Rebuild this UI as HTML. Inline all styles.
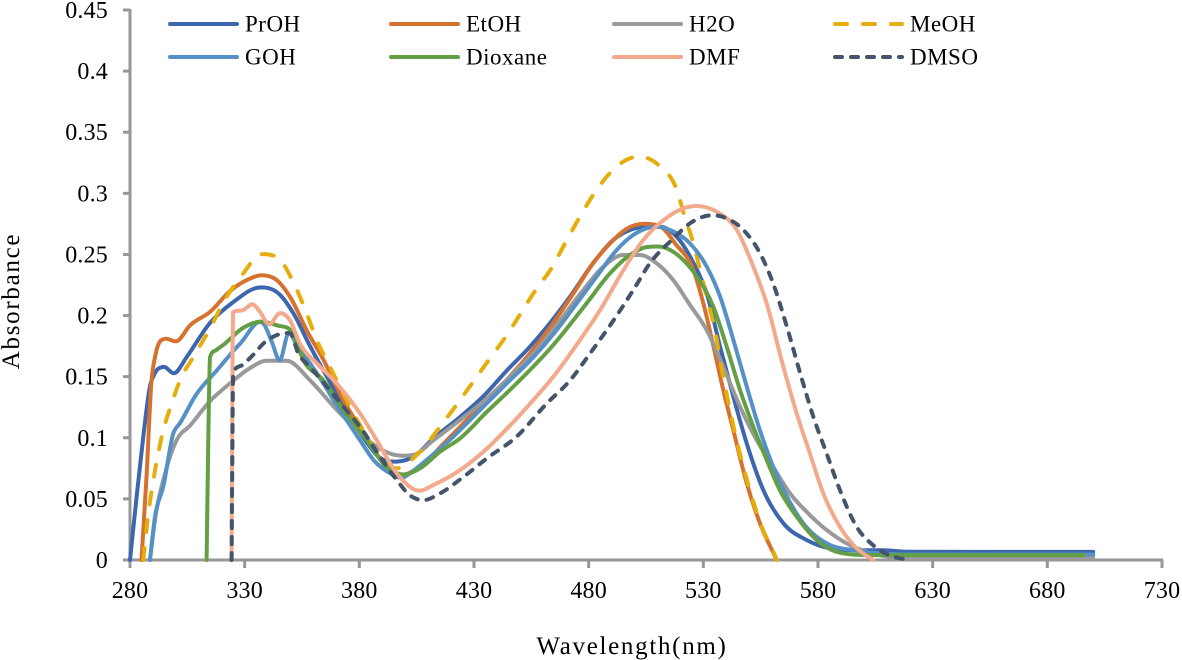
<!DOCTYPE html>
<html lang="en">
<head>
<meta charset="utf-8">
<title>Absorbance vs Wavelength</title>
<style>
html,body{margin:0;padding:0;background:#fff;width:1182px;height:660px;overflow:hidden}
svg{display:block}
text{font-family:"Liberation Serif",serif;fill:#000}
.tick{font-size:24px;letter-spacing:.2px}
.title{font-size:25px;letter-spacing:1.7px}
.leg{font-size:23px;letter-spacing:.5px}
</style>
</head>
<body>
<svg id="chart" width="1182" height="660" viewBox="0 0 1182 660" xmlns="http://www.w3.org/2000/svg">
  <text class="title" transform="translate(19,301) rotate(-90)" text-anchor="middle">Absorbance</text>
  <text class="title" x="632" y="654" text-anchor="middle">Wavelength(nm)</text>
</svg>
<script>
const xTicks = [280, 330, 380, 430, 480, 530, 580, 630, 680, 730];
const yTicks = [0, 0.05, 0.1, 0.15, 0.2, 0.25, 0.3, 0.35, 0.4, 0.45];
const yTickLabels = ['0', '0.05', '0.1', '0.15', '0.2', '0.25', '0.3', '0.35', '0.4', '0.45'];

const prohX = [280,282.9,285.8,288.7,290.9,294.5,299.6,304.7,314.9,325,336.7,345.4,351.2,358.5,370.1,380.3,390.5,396.3,403.6,412.3,423.9,434.1,444.3,454.4,463.2,471.9,482,490.8,498,505.3,511.1,518.4,525.7,531.5,537.3,543.1,548.9,556.2,564.9,575,585.2,596.9,608.5,618.7,650,700];
const prohY = [0,.052,.101,.142,.153,.158,.153,.166,.194,.211,.223,.217,.202,.175,.136,.104,.082,.0805,.0845,.0995,.117,.134,.155,.1745,.194,.2155,.243,.262,.27,.2727,.2727,.2645,.243,.218,.1745,.1336,.0955,.057,.03,.0164,.0095,.008,.008,.0068,.0066,.0066];

const etohX = [285,287.2,289.4,290.9,295.3,300.3,306.2,314.9,323.6,330.9,337.4,344,350.5,357,364.3,373,381.7,390.5,394.8,406.5,416.6,429.7,442.8,454.4,464.6,473.3,482,489.3,496.6,506,512.6,517.7,525.7,530,534.4,538.7,543.1,548.9,554.7,562];
const etohY = [0,.068,.147,.166,.181,.179,.192,.203,.22,.229,.233,.229,.213,.188,.164,.131,.104,.079,.07,.076,.095,.12,.1445,.169,.194,.218,.243,.259,.271,.275,.271,.259,.237,.21,.175,.139,.106,.063,.03,0];

const h2oX = [288.7,290.9,295.3,300.3,306.2,314.9,323.6,332.3,339.6,348.3,358.5,370.1,380.3,389,397.7,403.6,412.3,423.9,435.5,445.7,457.3,467.5,477.7,486.4,495.1,502.4,509.7,516.9,524.2,531.5,538.7,546,553.3,560.5,567.8,575,583.8,592.5,601.2,612.9,650,700];
const h2oY = [0,.033,.071,.098,.11,.13,.1445,.157,.163,.163,.147,.123,.104,.091,.0854,.086,.098,.1145,.132,.15,.172,.196,.221,.24,.2495,.2495,.2427,.229,.2086,.188,.158,.1255,.098,.076,.0545,.0395,.0245,.0136,.0068,.0025,.002,.002];

const meohX = [285.8,288,290.2,294.5,298.2,301.8,307.6,314.9,321.4,329.4,336.7,344,350.5,357,361.4,367.2,373,381.7,390.5,396.3,400.6,406.5,415.2,422.4,429.7,437,444.3,450.8,457.3,463.2,469.7,476.2,482.8,490,501,511.1,518.4,522,525.7,528.6,532.2,535.1,537.3,539.5,541.6,544.5,547.5,551.1,555.5,560.5,562];
const meohY = [0,.038,.0655,.106,.128,.147,.166,.1895,.213,.2345,.25,.248,.23,.202,.18,.158,.136,.106,.082,.075,.079,.0886,.109,.127,.146,.165,.184,.203,.222,.237,.259,.281,.301,.318,.33,.322,.303,.28,.259,.237,.21,.188,.1636,.142,.1227,.098,.076,.052,.027,.0068,0];

const gohX = [288.7,290.9,294.5,298.9,301.8,309.1,317.8,328,338.1,341.8,345.4,349,352.7,361.4,370.1,380.3,386.1,393.4,399.2,402.1,409.4,421,432.6,444.3,455.9,466,474.8,483.5,492.2,499.5,505.3,509.7,515.5,524.2,531.5,537.3,543.1,548.9,554.7,560.5,566.4,573.6,583.8,595.4,607,618.7,700];
const gohY = [0,.0355,.06,.1036,.112,.136,.155,.177,.1936,.1786,.1636,.1855,.176,.153,.127,.098,.082,.071,.0675,.071,.082,.101,.1227,.1445,.166,.188,.21,.232,.2536,.266,.2714,.2727,.27,.259,.24,.2155,.18,.142,.106,.076,.052,.03,.0136,.008,.0055,.0045,.0045];

const dioxaneX = [313.4,314.2,314.9,317.8,320.7,329.4,336.7,344,350.5,355.6,364.3,373,383.2,391.9,399.2,406.5,415.2,423.9,435.5,448.6,464.6,479.1,489.3,498,505.3,511.1,514,519.8,527.1,534.4,540.2,546,551.8,557.6,563.4,570.7,579.4,589.6,604.1,696];
const dioxaneY = [0,.106,.166,.172,.176,.19,.195,.192,.187,.1636,.147,.123,.098,.076,.07,.075,.0886,.0995,.121,.1445,.176,.21,.2345,.2495,.256,.2564,.255,.248,.232,.207,.1745,.139,.109,.082,.057,.0355,.0164,.006,.004,.004];

const dmfX = [324.3,324.6,325,329.4,333.8,336.7,340.3,345.4,349.8,354.1,361.4,370.1,380.3,387.6,396.3,405,413.7,423.9,434.1,445.7,455.9,464.6,476.2,485,495.1,503.9,512.6,521.3,527.8,535.8,544.6,551.8,557.6,564.9,570.7,576.5,582.3,589.6,596.9,604.1];
const dmfY = [0,.1336,.203,.2045,.209,.203,.193,.202,.196,.177,.161,.1445,.12,.098,.071,.057,.0627,.0736,.0886,.11,.131,.15,.18,.2045,.237,.262,.278,.2877,.2896,.285,.27,.24,.21,.158,.12,.087,.0545,.027,.0095,0];

const dmsoX = [324.3,324.6,325,329.4,333.8,338.1,344,349.8,353.4,358.5,365.8,373,380.3,389,396.3,402,407.9,415.2,425.4,435.5,448.6,461.7,471.9,480.6,490.8,499.5,506.8,516.9,524.2,532.9,540.2,547.5,554.7,560.5,566.4,572.2,578,583.8,589.6,596.9,604.1,612.9,620];
const dmsoY = [0,.079,.153,.16,.168,.177,.184,.1855,.169,.158,.142,.1255,.109,.0845,.0655,.053,.049,.0545,.068,.083,.101,.128,.147,.169,.196,.221,.243,.263,.2755,.282,.2795,.27,.251,.226,.191,.153,.117,.087,.057,.027,.012,.0027,0];

const seriesNames = ['PrOH', 'EtOH', 'H2O', 'MeOH', 'GOH', 'Dioxane', 'DMF', 'DMSO'];
const seriesX = [prohX, etohX, h2oX, meohX, gohX, dioxaneX, dmfX, dmsoX];
const seriesY = [prohY, etohY, h2oY, meohY, gohY, dioxaneY, dmfY, dmsoY];

const seriesColors = ['#3d66ae', '#d6722f', '#999999', '#e6ae0c', '#5591c6', '#649f45', '#f3a98c', '#44546a'];
const seriesDash = ['', '', '', '12 16', '', '', '', '7 9'];
const svgNS = 'http://www.w3.org/2000/svg';
const chart = document.getElementById('chart');
const plotLeft = 130, plotRight = 1162, plotBottom = 560, plotTop = 10;
const xScale = v => plotLeft + (v - xTicks[0]) / (xTicks[xTicks.length - 1] - xTicks[0]) * (plotRight - plotLeft);
const yScale = v => plotBottom - (v - yTicks[0]) / (yTicks[yTicks.length - 1] - yTicks[0]) * (plotBottom - plotTop);

function make(tag, attrs, parent) {
  const el = document.createElementNS(svgNS, tag);
  for (const k in attrs) el.setAttribute(k, attrs[k]);
  (parent || chart).appendChild(el);
  return el;
}

// smooth cubic through data points: central-difference tangents with a limiter
function curvePath(xs, ys) {
  const px = xs.map(xScale), py = ys.map(yScale), n = px.length;
  const d = [], m = new Array(n);
  for (let i = 0; i < n - 1; i++) d.push((py[i + 1] - py[i]) / (px[i + 1] - px[i]));
  m[0] = d[0]; m[n - 1] = d[n - 2];
  for (let i = 1; i < n - 1; i++) {
    const h0 = px[i] - px[i - 1], h1 = px[i + 1] - px[i];
    const c = (h1 * d[i - 1] + h0 * d[i]) / (h0 + h1);
    const same = d[i - 1] * d[i] > 0;
    const lim = (same ? 3 : 1) * Math.min(Math.abs(d[i - 1]), Math.abs(d[i]));
    m[i] = Math.max(-lim, Math.min(lim, c));
  }
  let s = 'M' + px[0].toFixed(2) + ' ' + py[0].toFixed(2);
  for (let i = 0; i < n - 1; i++) {
    const h = (px[i + 1] - px[i]) / 3;
    s += 'C' + (px[i] + h).toFixed(2) + ' ' + (py[i] + m[i] * h).toFixed(2) + ' ' +
      (px[i + 1] - h).toFixed(2) + ' ' + (py[i + 1] - m[i + 1] * h).toFixed(2) + ' ' +
      px[i + 1].toFixed(2) + ' ' + py[i + 1].toFixed(2);
  }
  return s;
}

const axisColor = '#979797';

const yAxisLine = make('line', {x1: plotLeft, x2: plotLeft, y1: plotTop - 1, y2: plotBottom, stroke: axisColor, 'stroke-width': 3});



const xAxisLine = make('line', {x1: plotLeft - 7, x2: plotRight + 1, y1: plotBottom, y2: plotBottom, stroke: axisColor, 'stroke-width': 3});



yTicks.forEach((t, i) => {
  const y = yScale(t);
  const mark = make('line', {x1: plotLeft - 7, x2: plotLeft, y1: y, y2: y, stroke: axisColor, 'stroke-width': 3});
  
  
  const label = make('text', {x: 108, y: y + 8, 'text-anchor': 'end', class: 'tick'});
  label.textContent = yTickLabels[i];
  
  
});

xTicks.forEach(t => {
  const x = xScale(t);
  const mark = make('line', {x1: x, x2: x, y1: plotBottom, y2: plotBottom + 8, stroke: axisColor, 'stroke-width': 3});
  
  
  const label = make('text', {x: x, y: 598, 'text-anchor': 'middle', class: 'tick'});
  label.textContent = String(t);
  
  
});

seriesNames.forEach((name, i) => {
  const attrs = {d: curvePath(seriesX[i], seriesY[i]), fill: 'none', stroke: seriesColors[i], 'stroke-width': 4, 'stroke-linejoin': 'round', 'stroke-linecap': 'round'};
  if (seriesDash[i]) attrs['stroke-dasharray'] = seriesDash[i];
  const path = make('path', attrs);
  
  
});

const legendCols = [168, 389, 612, 833];
const legendRows = [24, 57];
seriesNames.forEach((name, i) => {
  const col = i < 4 ? i : i - 4;
  const row = i < 4 ? 0 : 1;
  const x = legendCols[col], y = legendRows[row];
  const g = make('g', {});
  
  
  const attrs = {x1: x + 2, x2: x + 69, y1: y, y2: y, stroke: seriesColors[i], 'stroke-width': 4, 'stroke-linecap': 'round'};
  if (seriesDash[i]) attrs['stroke-dasharray'] = seriesDash[i];
  const sw = make('line', attrs, g);
  
  
  const label = make('text', {x: x + 77, y: y + 7.5, class: 'leg'}, g);
  label.textContent = name;
  
  
});
</script>
</body>
</html>
